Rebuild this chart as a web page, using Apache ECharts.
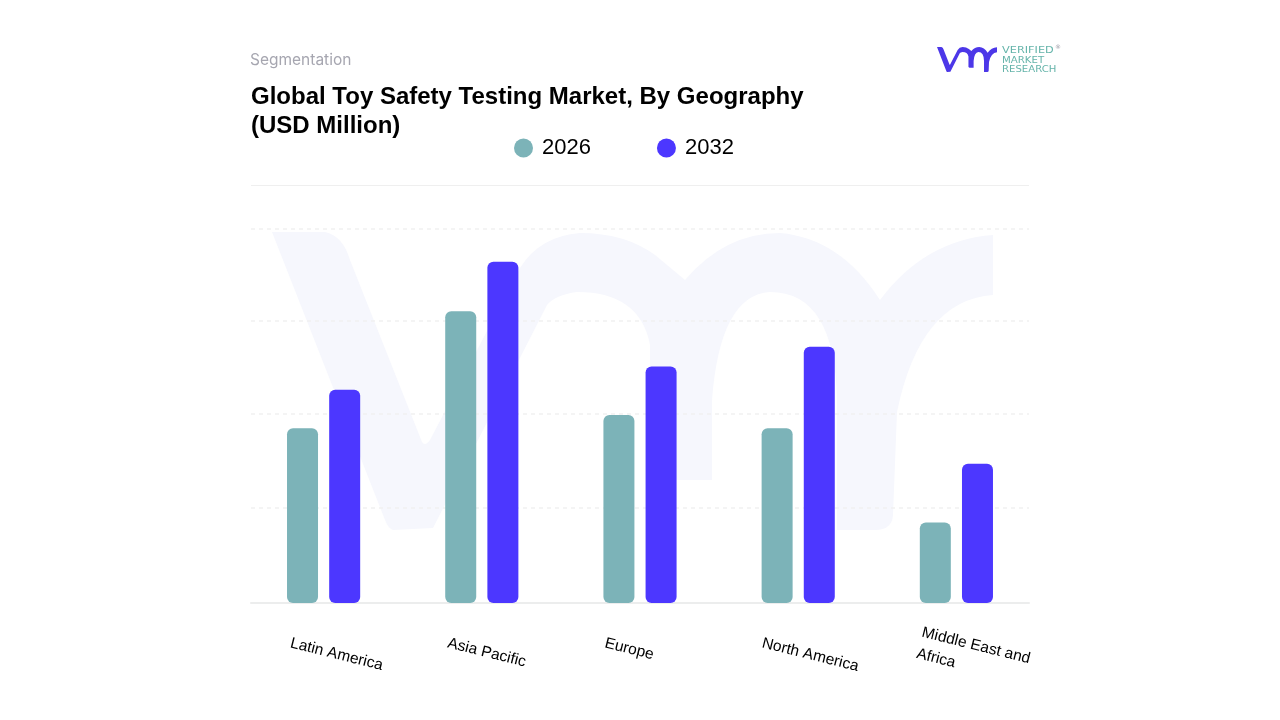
<!DOCTYPE html>
<html>
<head>
<meta charset="utf-8">
<style>
  html, body { margin: 0; padding: 0; background: #fff; }
  #chart { width: 1280px; height: 720px; }
</style>
<script src="https://cdn.jsdelivr.net/npm/echarts@6/dist/echarts.min.js"></script>
</head>
<body>
<div id="chart"></div>
<script>
var categories = ['Latin America', 'Asia Pacific', 'Europe', 'North America', 'Middle East and\nAfrica'];
var values2026 = [187, 312, 201, 187, 86];
var values2032 = [228, 365, 253, 274, 149];
var gridValues = [101.5, 202, 301.5, 400];

var TEAL = '#7cb3b8';
var BLUE = '#4c37ff';
var LOGO_TEAL = '#65b4aa';

// vmr mark, used for the logo and for the big watermark behind the bars
var markPath = 'M272 232 L325 232 Q343 236 350 260 L422 442 Q425 447 430 440 L520 268 ' +
  'Q540 236 580 233 Q625 233 655 255 L685 280 Q725 233 780 233 Q840 238 880 300 ' +
  'Q925 240 993 235 L993 295 Q920 300 897 412 L893 515 Q892 530 875 530 L837 530 ' +
  'L837 400 Q835 292 770 292 Q720 295 712 400 L712 480 L680 480 Q660 480 650 470 ' +
  'L650 345 Q640 292 577 292 Q555 295 547 305 L433 528 L393 530 Q388 528 385 520 Z';
echarts.graphic.registerShape('vmrMark', echarts.graphic.extendPath(markPath, {}));

var logoScaleX = 60 / 721;
var logoScaleY = 25 / 298;

var chart = echarts.init(document.getElementById('chart'));

chart.setOption({
  backgroundColor: '#fff',
  animation: false,
  title: [
    {
      text: 'Segmentation',
      left: 250, top: 52, padding: 0,
      textStyle: { fontFamily: 'Inter', fontSize: 15.5, fontWeight: 400, color: '#a6a6b0' }
    },
    {
      text: 'Global Toy Safety Testing Market, By Geography\n(USD Million)',
      left: 251, top: 83, padding: 0,
      textStyle: { fontFamily: 'Liberation Sans', fontSize: 24, fontWeight: 700, color: '#000', lineHeight: 29 }
    }
  ],
  legend: {
    data: ['2026', '2032'],
    left: 514, top: 137,
    icon: 'circle',
    itemWidth: 19, itemHeight: 19,
    itemGap: 66,
    padding: 0,
    textStyle: { fontFamily: 'Liberation Sans', fontSize: 22, color: '#000', padding: [3, 0, 0, 4] }
  },
  grid: [
    { left: 244.5, width: 791, top: 229, height: 374 },  // bars
    { left: 251, width: 778, top: 229, height: 374 },    // gridlines and baseline
    { left: 212, width: 786, top: 229, height: 374 }     // tilted labels, start left of the bars
  ],
  xAxis: [
    { type: 'category', gridIndex: 0, data: categories, axisLine: { show: false }, axisTick: { show: false }, axisLabel: { show: false } },
    {
      type: 'value', gridIndex: 1, min: 0, max: 1,
      axisLine: { show: true, lineStyle: { color: '#eceded', width: 2 } },
      axisTick: { show: false }, axisLabel: { show: false }, splitLine: { show: false }
    },
    {
      type: 'category', gridIndex: 2, data: categories,
      axisLine: { show: false }, axisTick: { show: false },
      axisLabel: {
        interval: 0, rotate: -14, margin: 40,
        align: 'left', verticalAlign: 'middle',
        fontFamily: 'Liberation Sans', fontSize: 15.5, lineHeight: 22, color: '#000'
      }
    }
  ],
  yAxis: [
    { type: 'value', gridIndex: 0, min: 0, max: 400, interval: 100, show: false },
    {
      type: 'value', gridIndex: 1, min: 0, max: 400,
      axisLine: { show: false },
      axisTick: { show: false, customValues: gridValues },
      axisLabel: { show: false, customValues: gridValues },
      splitLine: { show: true, lineStyle: { color: '#f1f1f1', type: [4, 4], width: 1.5 } }
    },
    { type: 'value', gridIndex: 2, min: 0, max: 400, show: false }
  ],
  series: [
    {
      name: '2026', type: 'bar', xAxisIndex: 0, yAxisIndex: 0,
      data: values2026, barWidth: 31, barGap: '36%',
      itemStyle: { color: TEAL, borderRadius: 6 }
    },
    {
      name: '2032', type: 'bar', xAxisIndex: 0, yAxisIndex: 0,
      data: values2032, barWidth: 31, barGap: '36%',
      itemStyle: { color: BLUE, borderRadius: 6 }
    }
  ],
  graphic: [
    { type: 'vmrMark', z: -10, style: { fill: '#f6f7fd' } },
    { type: 'line', z: -5, shape: { x1: 251, y1: 185.5, x2: 1029, y2: 185.5 }, style: { stroke: '#efefef', lineWidth: 1 } },
    {
      type: 'vmrMark',
      x: 937 - 272 * logoScaleX, y: 47 - 232 * logoScaleY,
      scaleX: logoScaleX, scaleY: logoScaleY,
      style: { fill: '#4c37e8' }
    },
    { type: 'text', x: 1002, y: 46, scaleX: 1.33, style: { text: 'VERIFIED', fontFamily: 'DejaVu Sans', fontSize: 8.5, fill: LOGO_TEAL } },
    { type: 'text', x: 1002, y: 56, scaleX: 1.2, style: { text: 'MARKET', fontFamily: 'DejaVu Sans', fontSize: 8.5, fill: LOGO_TEAL } },
    { type: 'text', x: 1002, y: 65, scaleX: 1.19, style: { text: 'RESEARCH', fontFamily: 'DejaVu Sans', fontSize: 8.5, fill: LOGO_TEAL } },
    { type: 'text', x: 1055, y: 44, style: { text: '®', fontFamily: 'DejaVu Sans', fontSize: 6, fill: '#9a9aa5' } }
  ]
});
</script>
</body>
</html>
